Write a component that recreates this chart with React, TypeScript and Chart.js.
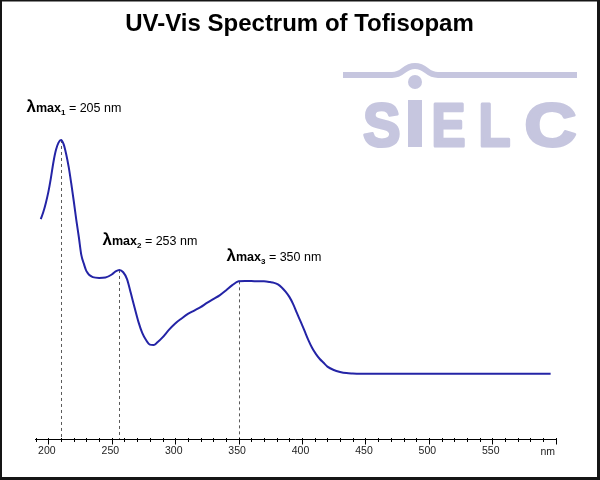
import React, { useEffect, useRef } from "react";
import { Chart, registerables } from "chart.js";

Chart.register(...registerables);

// ---- Data ----
const TITLE = "UV-Vis Spectrum of Tofisopam";
const UNIT_LABEL = "nm";
const LOGO_TEXT = ["S", "i", "E", "L", "C"];

const WAVELENGTH_NM = [
  194, 196, 198, 200, 202, 204, 206, 208, 210, 212, 214, 216, 218, 220, 222, 224, 226, 228, 230,
  235, 240, 245, 250,
  253, 256, 259, 262, 265, 268, 271, 274, 277, 280, 283, 286,
  290,
  295, 300, 305, 310, 315, 320, 325, 330, 335, 340, 345, 350, 355, 360, 365, 370, 375,
  378, 381, 384, 387, 390, 393, 396, 399, 402, 405, 408, 411, 414, 417, 420,
  425, 430, 435, 440,
  450, 470, 500, 530, 560, 596,
];

const ABSORBANCE = [
  0.580, 0.599, 0.623, 0.652, 0.689, 0.731, 0.763, 0.782, 0.789, 0.778, 0.752, 0.718, 0.675, 0.628, 0.578, 0.533, 0.485, 0.462, 0.443,
  0.427, 0.425, 0.426, 0.434,
  0.442, 0.446, 0.440, 0.422, 0.385, 0.346, 0.309, 0.280, 0.261, 0.249, 0.248, 0.255,
  0.268,
  0.288, 0.305, 0.318, 0.330, 0.339, 0.348, 0.359, 0.369, 0.379, 0.392, 0.406, 0.416, 0.417, 0.417, 0.416, 0.416, 0.414,
  0.412, 0.408, 0.400, 0.389, 0.375, 0.356, 0.332, 0.309, 0.285, 0.261, 0.240, 0.224, 0.211, 0.201, 0.191,
  0.182, 0.177, 0.174, 0.173,
  0.172, 0.172, 0.172, 0.172, 0.172, 0.172,
];

const AXIS_MIN_NM = 190;
const AXIS_MAX_NM = 600;
const MINOR_STEP_NM = 10;
const MAJOR_STEP_NM = 50;
const TICK_LABELS = [200, 250, 300, 350, 400, 450, 500, 550];

const PEAK_NM = [210, 256, 350];
const PEAK_LABELS = ["205", "253", "350"];
const PEAK_SUBS = ["1", "2", "3"];

// ---- Styles / layout ----
const FONT = '"Liberation Sans", Arial, Helvetica, sans-serif';
const LINE_COLOR = "#2424a6";
const LOGO_COLOR = "#c6c6df";
const LABEL_POS = [
  { x: 26.5, y: 112 },
  { x: 102.5, y: 245 },
  { x: 226.5, y: 261 },
];

function drawLetter(ctx: CanvasRenderingContext2D, ch: string, x: number, w: number, baseline: number) {
  const m = ctx.measureText(ch).width;
  ctx.save();
  ctx.translate(x, baseline);
  ctx.scale(w / m, 1);
  ctx.fillText(ch, 0, 0);
  ctx.strokeText(ch, 0, 0);
  ctx.restore();
}

const decorPlugin = {
  id: "decor",
  beforeDatasetsDraw(chart: any) {
    const ctx: CanvasRenderingContext2D = chart.ctx;
    const xs = chart.scales.x;
    const ys = chart.scales.y;

    // Logo
    ctx.save();
    ctx.fillStyle = LOGO_COLOR;
    ctx.strokeStyle = LOGO_COLOR;
    ctx.lineWidth = 6;
    ctx.beginPath();
    ctx.moveTo(343, 75);
    ctx.lineTo(392, 75);
    ctx.bezierCurveTo(404, 75, 403, 66, 415, 66);
    ctx.bezierCurveTo(427, 66, 426, 75, 438, 75);
    ctx.lineTo(577, 75);
    ctx.stroke();
    ctx.beginPath();
    ctx.arc(415, 82, 7, 0, Math.PI * 2);
    ctx.fill();
    ctx.font = `bold 62px ${FONT}`;
    ctx.textBaseline = "alphabetic";
    ctx.lineWidth = 3;
    ctx.lineJoin = "round";
    const base = 145.5;
    drawLetter(ctx, LOGO_TEXT[0], 363, 37.5, base);
    ctx.fillRect(408, 100, 14, 47);
    drawLetter(ctx, LOGO_TEXT[2], 431.5, 34, base);
    drawLetter(ctx, LOGO_TEXT[3], 478.5, 32, base);
    drawLetter(ctx, LOGO_TEXT[4], 524.5, 52, base);
    ctx.restore();

    // Dashed peak lines
    ctx.save();
    ctx.strokeStyle = "#5a5a5a";
    ctx.lineWidth = 1;
    ctx.setLineDash([3, 3]);
    PEAK_NM.forEach((nm) => {
      const i = WAVELENGTH_NM.indexOf(nm);
      const px = Math.round(xs.getPixelForValue(nm)) + 0.5;
      const py = ys.getPixelForValue(ABSORBANCE[i]);
      ctx.beginPath();
      ctx.moveTo(px, py);
      ctx.lineTo(px, xs.top);
      ctx.stroke();
    });
    ctx.restore();
  },
  afterDraw(chart: any) {
    const ctx: CanvasRenderingContext2D = chart.ctx;
    const xs = chart.scales.x;
    const W = chart.width;
    const H = chart.height;

    // Title
    ctx.save();
    ctx.fillStyle = "#000";
    ctx.font = `bold 24px ${FONT}`;
    ctx.textAlign = "center";
    ctx.textBaseline = "alphabetic";
    ctx.fillText(TITLE, 299.5, 31);
    ctx.restore();

    // Tick marks
    ctx.save();
    ctx.strokeStyle = "#000";
    ctx.lineWidth = 1;
    for (let v = AXIS_MIN_NM; v <= AXIS_MAX_NM; v += MINOR_STEP_NM) {
      const px = Math.round(xs.getPixelForValue(v)) + 0.5;
      const major = v % MAJOR_STEP_NM === 0;
      ctx.beginPath();
      ctx.moveTo(px, xs.top - 1);
      ctx.lineTo(px, xs.top + (major ? 5.5 : 3));
      ctx.stroke();
    }
    ctx.restore();

    // Unit label
    ctx.save();
    ctx.fillStyle = "#222";
    ctx.font = `10.5px ${FONT}`;
    ctx.textAlign = "center";
    ctx.textBaseline = "alphabetic";
    ctx.fillText(UNIT_LABEL, xs.right - 8, 455);
    ctx.restore();

    // Peak annotations
    ctx.save();
    ctx.fillStyle = "#000";
    ctx.textAlign = "left";
    ctx.textBaseline = "alphabetic";
    PEAK_LABELS.forEach((lbl, k) => {
      let x = LABEL_POS[k].x;
      const y = LABEL_POS[k].y;
      ctx.font = `bold 17px ${FONT}`;
      ctx.fillText("λ", x, y);
      x += ctx.measureText("λ").width;
      ctx.font = `bold 12.5px ${FONT}`;
      ctx.fillText("max", x, y);
      x += ctx.measureText("max").width;
      ctx.font = `bold 8px ${FONT}`;
      ctx.fillText(PEAK_SUBS[k], x, y + 2.5);
      x += ctx.measureText(PEAK_SUBS[k]).width;
      ctx.font = `12.5px ${FONT}`;
      ctx.fillText(` = ${lbl} nm`, x, y);
    });
    ctx.restore();

    // Frame
    ctx.save();
    ctx.fillStyle = "#151515";
    ctx.fillRect(0, 0, W, 1.5);
    ctx.fillRect(0, 0, 2, H);
    ctx.fillRect(W - 3, 0, 3, H);
    ctx.fillRect(0, H - 3, W, 3);
    ctx.restore();
  },
};

export default function App() {
  const ref = useRef<HTMLCanvasElement | null>(null);

  useEffect(() => {
    if (!ref.current) return;
    const chart = new Chart(ref.current, {
      type: "line",
      data: {
        datasets: [
          {
            data: WAVELENGTH_NM.map((x, i) => ({ x, y: ABSORBANCE[i] })),
            borderColor: LINE_COLOR,
            borderWidth: 2,
            pointRadius: 0,
            cubicInterpolationMode: "monotone",
            fill: false,
          },
        ],
      },
      options: {
        responsive: false,
        animation: false,
        layout: { padding: { left: 35.7, right: 44.3, top: 60, bottom: 0 } },
        plugins: {
          legend: { display: false },
          title: { display: false },
          tooltip: { enabled: false },
        },
        scales: {
          x: {
            type: "linear",
            min: AXIS_MIN_NM,
            max: AXIS_MAX_NM,
            afterBuildTicks: (scale: any) => {
              const t: any[] = [];
              for (let v = AXIS_MIN_NM; v <= AXIS_MAX_NM; v += MINOR_STEP_NM) t.push({ value: v });
              scale.ticks = t;
            },
            afterFit: (scale: any) => {
              scale.height = 41;
            },
            grid: { display: false, drawTicks: false },
            border: { display: true, color: "#000", width: 1 },
            ticks: {
              autoSkip: false,
              maxRotation: 0,
              minRotation: 0,
              padding: 6,
              labelOffset: -1.5,
              color: "#222",
              font: { family: FONT, size: 10.5 },
              callback: (v: any) => (TICK_LABELS.includes(Number(v)) ? String(v) : ""),
            },
          },
          y: {
            display: false,
            min: 0,
            max: 1,
          },
        },
      },
      plugins: [decorPlugin],
    } as any);
    return () => chart.destroy();
  }, []);

  return (
    <div style={{ position: "fixed", left: 0, top: 0, width: 600, height: 480, background: "#fff" }}>
      <canvas ref={ref} width={600} height={480} style={{ display: "block" }} />
    </div>
  );
}
